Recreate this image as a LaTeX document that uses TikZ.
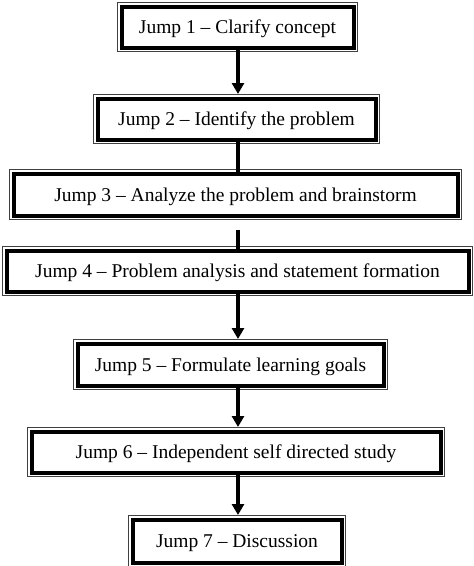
\documentclass[tikz,border=0pt]{standalone}
\usepackage{fontspec}
\setmainfont{Liberation Serif}
\usetikzlibrary{arrows.meta,calc}
\begin{document}
\begin{tikzpicture}[x=1pt,y=-1pt,
  jumpbox/.style={draw=black, line width=4pt, rectangle, inner sep=0pt, outer sep=0pt,
    font=\fontsize{19.5}{23}\selectfont, text height=13pt, text depth=0pt, fill=white},
  rim/.style={draw=black!75, line width=1pt},
  link/.style={line width=4pt, draw=black},
  arr/.style={link, -{Triangle[width=12pt,length=11pt]}}
]
\useasboundingbox (0,0) rectangle (474,566);
\node[jumpbox, minimum width=232pt, minimum height=41pt] (b1) at (237.5,27) {Jump 1 – Clarify concept};
\node[jumpbox, minimum width=278pt, minimum height=41pt] (b2) at (236.5,119) {Jump 2 – Identify the problem};
\node[jumpbox, minimum width=444pt, minimum height=42pt] (b3) at (235.5,194.5) {Jump 3 – Analyze the problem and brainstorm};
\node[jumpbox, minimum width=462pt, minimum height=41pt] (b4) at (237.5,271) {Jump 4 – Problem analysis and statement formation};
\node[jumpbox, minimum width=306pt, minimum height=42pt] (b5) at (230.5,364.5) {Jump 5 – Formulate learning goals};
\node[jumpbox, minimum width=409pt, minimum height=41pt] (b6) at (236,452) {Jump 6 – Independent self directed study};
\node[jumpbox, minimum width=209pt, minimum height=43.5pt] (b7) at (237,541.25) {Jump 7 – Discussion};
\foreach \n in {b1,b2,b3,b4,b5,b6,b7}
  \draw[rim] ([shift={(-4pt,4pt)}]\n.north west) rectangle ([shift={(4pt,-4pt)}]\n.south east);
\coordinate (ax) at (238,0);
\draw[arr] (b1.south -| ax) -- ($(b2.north -| ax)+(0,-4.5)$);
\draw[link] (b2.south -| ax) -- (b3.north -| ax);
\coordinate (s4) at ($(b3.south -| ax)+(0,14)$);
\draw[link] (s4) -- (b4.north -| ax);
\draw[arr] (b4.south -| ax) -- ($(b5.north -| ax)+(0,-4.5)$);
\draw[arr] (b5.south -| ax) -- ($(b6.north -| ax)+(0,-4.5)$);
\draw[arr] (b6.south -| ax) -- ($(b7.north -| ax)+(0,-4.5)$);
\end{tikzpicture}
\end{document}
